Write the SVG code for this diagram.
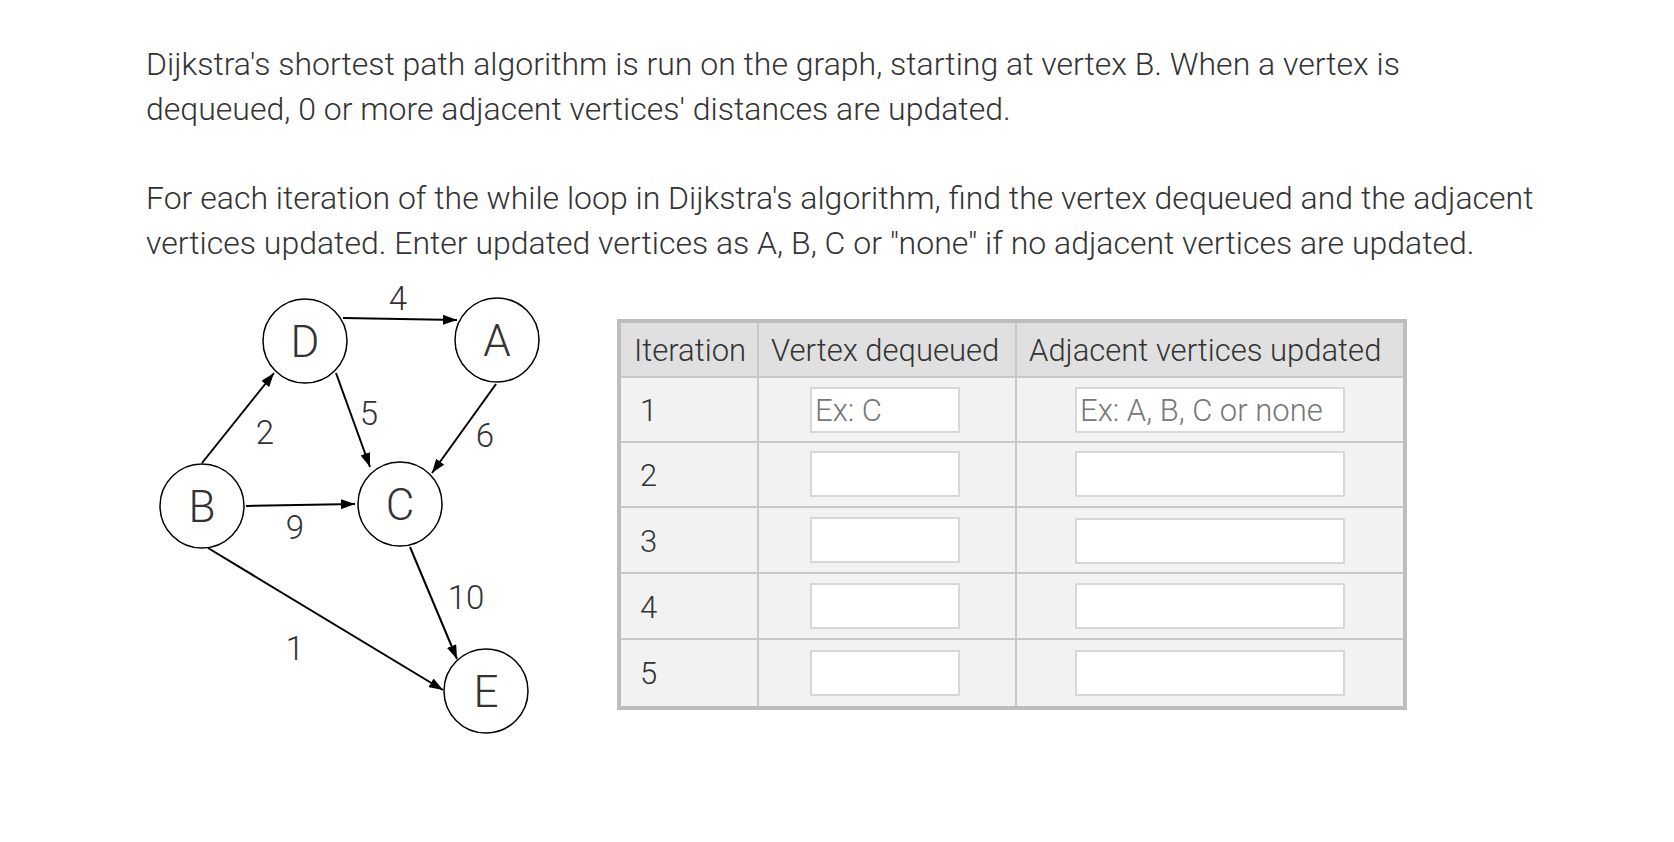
<svg xmlns="http://www.w3.org/2000/svg" width="1674" height="842" viewBox="0 0 1674 842">
<style>
text{font-family:Roboto,"Liberation Sans",sans-serif;font-weight:300;fill:#333}
.p{font-size:32px}
.n{font-size:44px;text-anchor:middle}
.w{font-size:33px;text-anchor:middle}
.t{font-size:31px}
.ph{font-size:31px;fill:#777}
circle{fill:#fff;stroke:#000;stroke-width:1.5}
.e{stroke:#000;stroke-width:2;fill:none;marker-end:url(#ah)}
.cell{stroke:#c8c8c8;stroke-width:2}
.in{fill:#fff;stroke:#d4d8d8;stroke-width:2}
</style>
<defs><marker id="ah" viewBox="0 0 14 10" refX="14" refY="5" markerWidth="14" markerHeight="10" orient="auto" markerUnits="userSpaceOnUse"><path d="M0,0L14,5L0,10z" fill="#000"/></marker></defs>
<rect width="1674" height="842" fill="#fff"/>
<text class="p" x="146" y="75">Dijkstra's shortest path algorithm is run on the graph, starting at vertex B. When a vertex is</text>
<text class="p" x="146" y="120">dequeued, 0 or more adjacent vertices' distances are updated.</text>
<text class="p" x="146" y="209">For each iteration of the while loop in Dijkstra's algorithm, find the vertex dequeued and the adjacent</text>
<text class="p" x="146" y="254">vertices updated. Enter updated vertices as A, B, C or "none" if no adjacent vertices are updated.</text>
<g id="edges" transform="translate(-3,0)">
<line class="e" x1="346" y1="318" x2="460" y2="320"/>
<line class="e" x1="205" y1="463" x2="277" y2="373"/>
<line class="e" x1="339" y1="373" x2="373" y2="467"/>
<line class="e" x1="499" y1="384" x2="435" y2="473"/>
<line class="e" x1="249" y1="506" x2="358" y2="504"/>
<line class="e" x1="413" y1="547" x2="460" y2="659"/>
<line class="e" x1="211" y1="548" x2="446" y2="690"/>
<text class="w" x="401" y="310">4</text>
<text class="w" x="268" y="444">2</text>
<text class="w" x="372" y="425">5</text>
<text class="w" x="488" y="447">6</text>
<text class="w" x="298" y="539">9</text>
<text class="w" x="469" y="609">10</text>
<text class="w" x="298" y="660">1</text>
</g>
<g id="D"><circle cx="305" cy="341" r="42"/><text class="n" x="305" y="357">D</text></g>
<g id="A"><circle cx="497" cy="340" r="42"/><text class="n" x="497" y="356">A</text></g>
<g id="B"><circle cx="202" cy="506" r="42"/><text class="n" x="202" y="522">B</text></g>
<g id="C"><circle cx="400" cy="504" r="42"/><text class="n" x="400" y="520">C</text></g>
<g id="E"><circle cx="486" cy="691" r="42"/><text class="n" x="486" y="707">E</text></g>
<g id="table">
<rect x="619" y="321" width="786" height="387" fill="#f2f2f2"/>
<rect x="619" y="321" width="786" height="56" fill="#e0e0e0"/>
<g class="cell">
<line x1="619" y1="377" x2="1405" y2="377"/>
<line x1="619" y1="442" x2="1405" y2="442"/>
<line x1="619" y1="507" x2="1405" y2="507"/>
<line x1="619" y1="573" x2="1405" y2="573"/>
<line x1="619" y1="639" x2="1405" y2="639"/>
<line x1="758" y1="321" x2="758" y2="708"/>
<line x1="1016" y1="321" x2="1016" y2="708"/>
</g>
<rect x="619" y="321" width="786" height="387" fill="none" stroke="#bdbdbd" stroke-width="4"/>
<text class="t" x="634" y="361">Iteration</text>
<text class="t" x="771" y="361">Vertex dequeued</text>
<text class="t" x="1029" y="361">Adjacent vertices updated</text>
<text class="t" x="640" y="421">1</text>
<text class="t" x="640" y="486">2</text>
<text class="t" x="640" y="552">3</text>
<text class="t" x="640" y="618">4</text>
<text class="t" x="640" y="684">5</text>
<rect class="in" x="811" y="388" width="148" height="44"/>
<rect class="in" x="1076" y="388" width="268" height="44"/>
<rect class="in" x="811" y="452" width="148" height="44"/>
<rect class="in" x="1076" y="452" width="268" height="44"/>
<rect class="in" x="811" y="518" width="148" height="44"/>
<rect class="in" x="1076" y="519" width="268" height="44"/>
<rect class="in" x="811" y="584" width="148" height="44"/>
<rect class="in" x="1076" y="584" width="268" height="44"/>
<rect class="in" x="811" y="651" width="148" height="44"/>
<rect class="in" x="1076" y="651" width="268" height="44"/>
<text class="ph" x="815" y="421">Ex: C</text>
<text class="ph" x="1080" y="421">Ex: A, B, C or none</text>
</g>
</svg>
